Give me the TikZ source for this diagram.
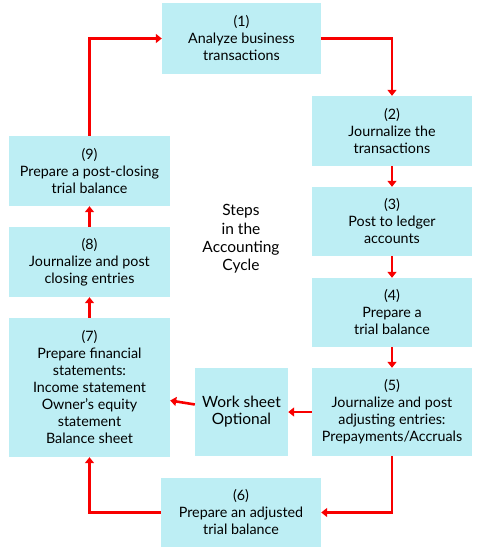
\documentclass[tikz,border=0pt]{standalone}
\usepackage{fontspec}
\setmainfont{Lato}
\usetikzlibrary{arrows.meta}
\definecolor{boxcyan}{HTML}{BDEEF4}
\definecolor{flowred}{HTML}{F80000}

\begin{document}
\begin{tikzpicture}[x=1pt, y=-1pt,
    stepbox/.style={fill=boxcyan, minimum width=160pt, minimum height=70pt,
      inner sep=0pt, align=center, font=\fontsize{14.3}{17}\selectfont},
    flow/.style={flowred, line width=2.6pt, -{Triangle[length=6pt, width=9pt]}}]
    \useasboundingbox (0,0) rectangle (480,557);

    % Right column
    \node[stepbox, minimum width=159pt, minimum height=71pt] (analyze) at (241.5,38.5) {(1)\\Analyze business\\transactions};
    \node[stepbox] (journal) at (392,131) {(2)\\Journalize the\\transactions};
    \node[stepbox, minimum height=69pt] (ledger) at (392,221.5) {(3)\\Post to ledger\\accounts};
    \node[stepbox, minimum height=69pt] (trial) at (392,312.5) {(4)\\Prepare a\\trial balance};
    \node[stepbox, minimum height=88pt] (adjust) at (392,412) {(5)\\Journalize and post\\adjusting entries:\\Prepayments/Accruals};

    % Middle
    \node[stepbox, minimum width=93pt, minimum height=88pt, font=\fontsize{15.5}{17}\selectfont] (worksheet) at (241.5,412) {Work sheet\\Optional};
    \node[stepbox, minimum height=69pt] (adjtrial) at (241,512.5) {(6)\\Prepare an adjusted\\trial balance};
    \node[align=center, font=\fontsize{15.5}{18.3}\selectfont] (title) at (241,239) {Steps\\in the\\Accounting\\Cycle};

    % Left column
    \node[stepbox, minimum width=161pt, minimum height=139pt] (financial) at (89.5,387.5) {(7)\\Prepare financial\\statements:\\Income statement\\Owner’s equity\\statement\\Balance sheet};
    \node[stepbox, minimum width=161pt] (closing) at (89.5,262) {(8)\\Journalize and post\\closing entries};
    \node[stepbox, minimum width=161pt] (postclose) at (89.5,171) {(9)\\Prepare a post-closing\\trial balance};

    % Cycle arrows
    \draw[flow] (analyze.east) -| (journal.north);
    \draw[flow] (journal) -- (ledger);
    \draw[flow] (ledger) -- (trial);
    \draw[flow] (trial) -- (adjust);
    \draw[flow] (adjust) -- (worksheet);
    \draw[flow] (worksheet) -- (financial);
    \draw[flow] (adjust.south) |- (adjtrial.east);
    \draw[flow] (adjtrial.west) -| (financial.south);
    \draw[flow] (financial) -- (closing);
    \draw[flow] (closing) -- (postclose);
    \draw[flow] (postclose.north) |- (analyze.west);
\end{tikzpicture}
\end{document}
